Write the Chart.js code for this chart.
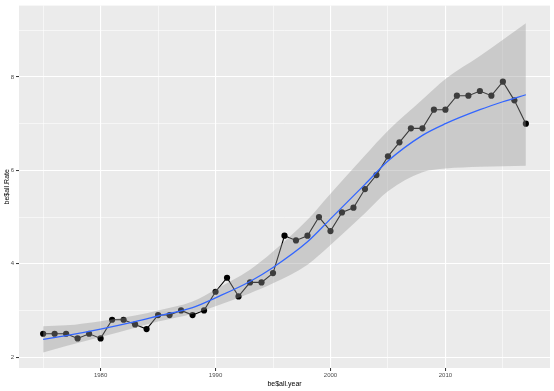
<!DOCTYPE html>
<html>
<head>
<meta charset="utf-8">
<script src="https://cdn.jsdelivr.net/npm/chart.js@4/dist/chart.umd.min.js"></script>
<style>
  html, body { margin: 0; padding: 0; background: #fff; }
  #wrap { width: 554px; height: 391px; }
</style>
</head>
<body>
<div id="wrap"><canvas id="rateChart" width="554" height="391"></canvas></div>
<script>
// observed series
const years = [1975, 1976, 1977, 1978, 1979, 1980, 1981, 1982, 1983, 1984,
               1985, 1986, 1987, 1988, 1989, 1990, 1991, 1992, 1993, 1994,
               1995, 1996, 1997, 1998, 1999, 2000, 2001, 2002, 2003, 2004,
               2005, 2006, 2007, 2008, 2009, 2010, 2011, 2012, 2013, 2014,
               2015, 2016, 2017];
const rates = [2.5, 2.5, 2.5, 2.4, 2.5, 2.4, 2.8, 2.8, 2.7, 2.6,
               2.9, 2.9, 3.0, 2.9, 3.0, 3.4, 3.7, 3.3, 3.6, 3.6,
               3.8, 4.6, 4.5, 4.6, 5.0, 4.7, 5.1, 5.2, 5.6, 5.9,
               6.3, 6.6, 6.9, 6.9, 7.3, 7.3, 7.6, 7.6, 7.7, 7.6,
               7.9, 7.5, 7.0];

// loess fit + confidence band
const fitYears  = [1975, 1977, 1980, 1983, 1985, 1988, 1990, 1993, 1995, 1998, 2000, 2003, 2005, 2008, 2010, 2013, 2015, 2017];
const fitRate   = [2.38, 2.46, 2.60, 2.76, 2.88, 3.06, 3.27, 3.62, 3.92, 4.47, 4.96, 5.70, 6.20, 6.75, 7.00, 7.30, 7.47, 7.62];
const bandLower = [2.10, 2.24, 2.43, 2.63, 2.76, 2.93, 3.09, 3.37, 3.58, 3.98, 4.40, 5.08, 5.55, 5.96, 6.04, 6.08, 6.09, 6.10];
const bandUpper = [2.66, 2.68, 2.77, 2.89, 3.00, 3.19, 3.45, 3.87, 4.26, 4.94, 5.50, 6.32, 6.85, 7.52, 7.96, 8.45, 8.80, 9.15];

// axis ticks
const xGridTicks = [1975, 1980, 1985, 1990, 1995, 2000, 2005, 2010, 2015];
const xLabelTicks = [1980, 1990, 2000, 2010];
const yGridTicks = [2, 3, 4, 5, 6, 7, 8, 9];
const yLabelTicks = [2, 4, 6, 8];

const FONT = "'Liberation Sans', Arial, sans-serif";

const toXY = (xs, ys) => xs.map((x, i) => ({ x: x, y: ys[i] }));

// grey panel behind everything
const panelBg = {
    id: 'panelBg',
    beforeDraw(chart) {
        const { ctx, chartArea: a } = chart;
        ctx.save();
        ctx.fillStyle = '#EBEBEB';
        ctx.fillRect(a.left, a.top, a.right - a.left, a.bottom - a.top);
        ctx.restore();
    }
};

function gridWidth(list) {
    return ctx => (ctx.tick && list.includes(ctx.tick.value)) ? 1.1 : 0.55;
}
function tickCol(list) {
    return ctx => (ctx.tick && list.includes(ctx.tick.value)) ? '#333333' : 'rgba(0,0,0,0)';
}

new Chart(document.getElementById('rateChart'), {
    type: 'line',
    data: {
        datasets: [
            {
                label: 'obs',
                data: toXY(years, rates),
                borderColor: '#000',
                borderWidth: 1.1,
                pointRadius: 3.1,
                pointBackgroundColor: '#000',
                pointBorderColor: '#000',
                pointBorderWidth: 0,
                tension: 0,
                order: 3
            },
            {
                label: 'lower',
                data: toXY(fitYears, bandLower),
                borderWidth: 0,
                borderColor: 'rgba(0,0,0,0)',
                pointRadius: 0,
                cubicInterpolationMode: 'monotone',
                fill: false,
                order: 2
            },
            {
                label: 'upper',
                data: toXY(fitYears, bandUpper),
                borderWidth: 0,
                borderColor: 'rgba(0,0,0,0)',
                backgroundColor: 'rgba(153,153,153,0.4)',
                pointRadius: 0,
                cubicInterpolationMode: 'monotone',
                fill: { target: 1 },
                order: 1
            },
            {
                label: 'fit',
                data: toXY(fitYears, fitRate),
                borderColor: '#3366FF',
                borderWidth: 1.3,
                pointRadius: 0,
                cubicInterpolationMode: 'monotone',
                fill: false,
                order: 0
            }
        ]
    },
    options: {
        responsive: false,
        animation: false,
        layout: { padding: { top: 3, right: 3.5, left: 0, bottom: 0 } },
        plugins: {
            legend: { display: false },
            tooltip: { enabled: false }
        },
        scales: {
            x: {
                type: 'linear',
                min: 1972.9,
                max: 2019.1,
                afterBuildTicks: s => { s.ticks = xGridTicks.map(v => ({ value: v })); },
                afterFit: s => { s.height = 23; },
                border: { display: false },
                grid: {
                    color: '#FFFFFF',
                    lineWidth: gridWidth(xLabelTicks),
                    tickColor: tickCol(xLabelTicks),
                    tickLength: 3,
                    tickWidth: 1
                },
                ticks: {
                    color: '#4D4D4D',
                    font: { family: FONT, size: 6 },
                    padding: 1,
                    maxRotation: 0,
                    autoSkip: false,
                    callback: v => xLabelTicks.includes(v) ? String(v) : ''
                },
                title: {
                    display: true,
                    text: 'be$all.year',
                    color: '#000',
                    font: { family: FONT, size: 7 },
                    padding: { top: 0, bottom: 3 }
                }
            },
            y: {
                min: 1.766,
                max: 9.53,
                afterBuildTicks: s => { s.ticks = yGridTicks.map(v => ({ value: v })); },
                afterFit: s => { s.width = 19; },
                border: { display: false },
                grid: {
                    color: '#FFFFFF',
                    lineWidth: gridWidth(yLabelTicks),
                    tickColor: tickCol(yLabelTicks),
                    tickLength: 3,
                    tickWidth: 1
                },
                ticks: {
                    color: '#4D4D4D',
                    font: { family: FONT, size: 6 },
                    padding: 2,
                    autoSkip: false,
                    callback: v => yLabelTicks.includes(v) ? String(v) : ''
                },
                title: {
                    display: true,
                    text: 'be$all.Rate',
                    color: '#000',
                    font: { family: FONT, size: 7 },
                    padding: { top: 3, bottom: 0 }
                }
            }
        }
    },
    plugins: [panelBg]
});
</script>
</body>
</html>
